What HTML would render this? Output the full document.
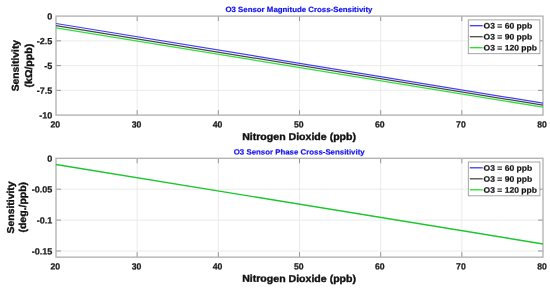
<!DOCTYPE html>
<html><head><meta charset="utf-8"><title>O3 Sensor Cross-Sensitivity</title>
<style>
html,body{margin:0;padding:0;background:#fff;}
svg{display:block;font-family:"Liberation Sans",sans-serif;font-weight:bold;}
.g{stroke:#e3e3e3;stroke-width:0.7;}
.t{stroke:#8c8c8c;stroke-width:0.9;}
.b{fill:none;stroke:#b2b2b2;stroke-width:1.35;}
text{stroke-linejoin:round;}
.tk{font-size:9.05px;fill:#1a1a1a;stroke:#1a1a1a;stroke-width:0.24px;}
.xl{font-size:10px;fill:#111;stroke:#111;stroke-width:0.38px;}
.yl{font-size:10px;fill:#111;stroke:#111;stroke-width:0.36px;}
.ti{font-size:7.6px;fill:#1414ee;stroke:#1414ee;stroke-width:0.2px;}
.lg{font-size:7.95px;fill:#111;stroke:#111;stroke-width:0.2px;}
</style></head><body>
<svg width="550" height="289" viewBox="0 0 550 289">
<rect width="550" height="289" fill="#fff"/>
<line x1="137.17" y1="16.1" x2="137.17" y2="115.1" class="g"/>
<line x1="218.33" y1="16.1" x2="218.33" y2="115.1" class="g"/>
<line x1="299.50" y1="16.1" x2="299.50" y2="115.1" class="g"/>
<line x1="380.67" y1="16.1" x2="380.67" y2="115.1" class="g"/>
<line x1="461.83" y1="16.1" x2="461.83" y2="115.1" class="g"/>
<line x1="56.0" y1="40.85" x2="543.0" y2="40.85" class="g"/>
<line x1="56.0" y1="65.60" x2="543.0" y2="65.60" class="g"/>
<line x1="56.0" y1="90.35" x2="543.0" y2="90.35" class="g"/>
<line x1="137.17" y1="16.1" x2="137.17" y2="21.1" class="t"/>
<line x1="137.17" y1="115.1" x2="137.17" y2="110.1" class="t"/>
<line x1="218.33" y1="16.1" x2="218.33" y2="21.1" class="t"/>
<line x1="218.33" y1="115.1" x2="218.33" y2="110.1" class="t"/>
<line x1="299.50" y1="16.1" x2="299.50" y2="21.1" class="t"/>
<line x1="299.50" y1="115.1" x2="299.50" y2="110.1" class="t"/>
<line x1="380.67" y1="16.1" x2="380.67" y2="21.1" class="t"/>
<line x1="380.67" y1="115.1" x2="380.67" y2="110.1" class="t"/>
<line x1="461.83" y1="16.1" x2="461.83" y2="21.1" class="t"/>
<line x1="461.83" y1="115.1" x2="461.83" y2="110.1" class="t"/>
<line x1="56.0" y1="40.85" x2="61.0" y2="40.85" class="t"/>
<line x1="543.0" y1="40.85" x2="538.0" y2="40.85" class="t"/>
<line x1="56.0" y1="65.60" x2="61.0" y2="65.60" class="t"/>
<line x1="543.0" y1="65.60" x2="538.0" y2="65.60" class="t"/>
<line x1="56.0" y1="90.35" x2="61.0" y2="90.35" class="t"/>
<line x1="543.0" y1="90.35" x2="538.0" y2="90.35" class="t"/>
<rect x="56.0" y="16.1" width="487.00" height="99.00" class="b"/>
<line x1="56.0" y1="27.8" x2="543.0" y2="107.2" stroke="#2ee03a" stroke-width="1.25"/>
<line x1="56.0" y1="25.6" x2="543.0" y2="105.2" stroke="#4a4648" stroke-width="1.25"/>
<line x1="56.0" y1="23.5" x2="543.0" y2="103.2" stroke="#4040fa" stroke-width="1.25"/>
<text transform="translate(52.30,19.50) rotate(0.04)" class="tk" text-anchor="end">0</text>
<text transform="translate(52.30,44.25) rotate(0.04)" class="tk" text-anchor="end">-2.5</text>
<text transform="translate(52.30,69.00) rotate(0.04)" class="tk" text-anchor="end">-5</text>
<text transform="translate(52.30,93.75) rotate(0.04)" class="tk" text-anchor="end">-7.5</text>
<text transform="translate(52.30,118.50) rotate(0.04)" class="tk" text-anchor="end">-10</text>
<text transform="translate(55.35,127.50) rotate(0.04) scale(0.96,1)" class="tk" text-anchor="middle">20</text>
<text transform="translate(136.47,127.50) rotate(0.04) scale(0.96,1)" class="tk" text-anchor="middle">30</text>
<text transform="translate(217.58,127.50) rotate(0.04) scale(0.96,1)" class="tk" text-anchor="middle">40</text>
<text transform="translate(298.70,127.50) rotate(0.04) scale(0.96,1)" class="tk" text-anchor="middle">50</text>
<text transform="translate(379.82,127.50) rotate(0.04) scale(0.96,1)" class="tk" text-anchor="middle">60</text>
<text transform="translate(460.93,127.50) rotate(0.04) scale(0.96,1)" class="tk" text-anchor="middle">70</text>
<text transform="translate(542.05,127.50) rotate(0.04) scale(0.96,1)" class="tk" text-anchor="middle">80</text>
<text transform="translate(299.10,140.05) rotate(0.04) scale(1.058,1)" class="xl" text-anchor="middle">Nitrogen Dioxide (ppb)</text>
<text transform="translate(298.90,12.00) rotate(0.04) scale(1.035,1)" class="ti" text-anchor="middle">O3 Sensor Magnitude Cross-Sensitivity</text>
<text transform="translate(18.70,65.65) rotate(-89.96) scale(1.027,1)" class="yl" text-anchor="middle">Sensitivity</text>
<text transform="translate(32.10,65.60) rotate(-89.96) scale(1.064,1)" class="yl" text-anchor="middle">(kΩ/ppb)</text>
<rect x="468.3" y="19.9" width="71.6" height="33.8" fill="#fff" stroke="#969696" stroke-width="0.85"/>
<line x1="469.8" y1="25.70" x2="482.7" y2="25.70" stroke="#3a3af0" stroke-width="1.3"/>
<text transform="translate(483.60,28.55) rotate(0.04) scale(1.075,1)" class="lg" text-anchor="start">O3 = 60 ppb</text>
<line x1="469.8" y1="36.70" x2="482.7" y2="36.70" stroke="#4a4a4a" stroke-width="1.3"/>
<text transform="translate(483.60,39.55) rotate(0.04) scale(1.075,1)" class="lg" text-anchor="start">O3 = 90 ppb</text>
<line x1="469.8" y1="47.70" x2="482.7" y2="47.70" stroke="#22e022" stroke-width="1.3"/>
<text transform="translate(483.60,50.55) rotate(0.04) scale(1.075,1)" class="lg" text-anchor="start">O3 = 120 ppb</text>
<line x1="137.17" y1="158.3" x2="137.17" y2="257.15" class="g"/>
<line x1="218.33" y1="158.3" x2="218.33" y2="257.15" class="g"/>
<line x1="299.50" y1="158.3" x2="299.50" y2="257.15" class="g"/>
<line x1="380.67" y1="158.3" x2="380.67" y2="257.15" class="g"/>
<line x1="461.83" y1="158.3" x2="461.83" y2="257.15" class="g"/>
<line x1="56.0" y1="189.20" x2="543.0" y2="189.20" class="g"/>
<line x1="56.0" y1="220.10" x2="543.0" y2="220.10" class="g"/>
<line x1="56.0" y1="251.00" x2="543.0" y2="251.00" class="g"/>
<line x1="137.17" y1="158.3" x2="137.17" y2="163.3" class="t"/>
<line x1="137.17" y1="257.15" x2="137.17" y2="252.14999999999998" class="t"/>
<line x1="218.33" y1="158.3" x2="218.33" y2="163.3" class="t"/>
<line x1="218.33" y1="257.15" x2="218.33" y2="252.14999999999998" class="t"/>
<line x1="299.50" y1="158.3" x2="299.50" y2="163.3" class="t"/>
<line x1="299.50" y1="257.15" x2="299.50" y2="252.14999999999998" class="t"/>
<line x1="380.67" y1="158.3" x2="380.67" y2="163.3" class="t"/>
<line x1="380.67" y1="257.15" x2="380.67" y2="252.14999999999998" class="t"/>
<line x1="461.83" y1="158.3" x2="461.83" y2="163.3" class="t"/>
<line x1="461.83" y1="257.15" x2="461.83" y2="252.14999999999998" class="t"/>
<line x1="56.0" y1="189.20" x2="61.0" y2="189.20" class="t"/>
<line x1="543.0" y1="189.20" x2="538.0" y2="189.20" class="t"/>
<line x1="56.0" y1="220.10" x2="61.0" y2="220.10" class="t"/>
<line x1="543.0" y1="220.10" x2="538.0" y2="220.10" class="t"/>
<line x1="56.0" y1="251.00" x2="61.0" y2="251.00" class="t"/>
<line x1="543.0" y1="251.00" x2="538.0" y2="251.00" class="t"/>
<rect x="56.0" y="158.3" width="487.00" height="98.85" class="b"/>
<line x1="56.0" y1="164.45" x2="543.0" y2="243.95" stroke="#1cc62e" stroke-width="1.4"/>
<text transform="translate(52.30,161.70) rotate(0.04)" class="tk" text-anchor="end">0</text>
<text transform="translate(52.30,192.60) rotate(0.04)" class="tk" text-anchor="end">-0.05</text>
<text transform="translate(52.30,223.50) rotate(0.04)" class="tk" text-anchor="end">-0.1</text>
<text transform="translate(52.30,254.40) rotate(0.04)" class="tk" text-anchor="end">-0.15</text>
<text transform="translate(55.35,269.55) rotate(0.04) scale(0.96,1)" class="tk" text-anchor="middle">20</text>
<text transform="translate(136.47,269.55) rotate(0.04) scale(0.96,1)" class="tk" text-anchor="middle">30</text>
<text transform="translate(217.58,269.55) rotate(0.04) scale(0.96,1)" class="tk" text-anchor="middle">40</text>
<text transform="translate(298.70,269.55) rotate(0.04) scale(0.96,1)" class="tk" text-anchor="middle">50</text>
<text transform="translate(379.82,269.55) rotate(0.04) scale(0.96,1)" class="tk" text-anchor="middle">60</text>
<text transform="translate(460.93,269.55) rotate(0.04) scale(0.96,1)" class="tk" text-anchor="middle">70</text>
<text transform="translate(542.05,269.55) rotate(0.04) scale(0.96,1)" class="tk" text-anchor="middle">80</text>
<text transform="translate(299.10,281.90) rotate(0.04) scale(1.058,1)" class="xl" text-anchor="middle">Nitrogen Dioxide (ppb)</text>
<text transform="translate(299.20,154.55) rotate(0.04) scale(1.035,1)" class="ti" text-anchor="middle">O3 Sensor Phase Cross-Sensitivity</text>
<text transform="translate(13.95,207.40) rotate(-89.96) scale(1.04,1)" class="yl" text-anchor="middle">Sensitivity</text>
<text transform="translate(25.90,207.25) rotate(-89.96) scale(1.05,1)" class="yl" text-anchor="middle">(deg./ppb)</text>
<rect x="468.3" y="162.0" width="71.6" height="33.8" fill="#fff" stroke="#969696" stroke-width="0.85"/>
<line x1="469.8" y1="167.80" x2="482.7" y2="167.80" stroke="#3a3af0" stroke-width="1.3"/>
<text transform="translate(483.60,170.65) rotate(0.04) scale(1.075,1)" class="lg" text-anchor="start">O3 = 60 ppb</text>
<line x1="469.8" y1="178.80" x2="482.7" y2="178.80" stroke="#4a4a4a" stroke-width="1.3"/>
<text transform="translate(483.60,181.65) rotate(0.04) scale(1.075,1)" class="lg" text-anchor="start">O3 = 90 ppb</text>
<line x1="469.8" y1="189.80" x2="482.7" y2="189.80" stroke="#22e022" stroke-width="1.3"/>
<text transform="translate(483.60,192.65) rotate(0.04) scale(1.075,1)" class="lg" text-anchor="start">O3 = 120 ppb</text>
</svg>
</body></html>
